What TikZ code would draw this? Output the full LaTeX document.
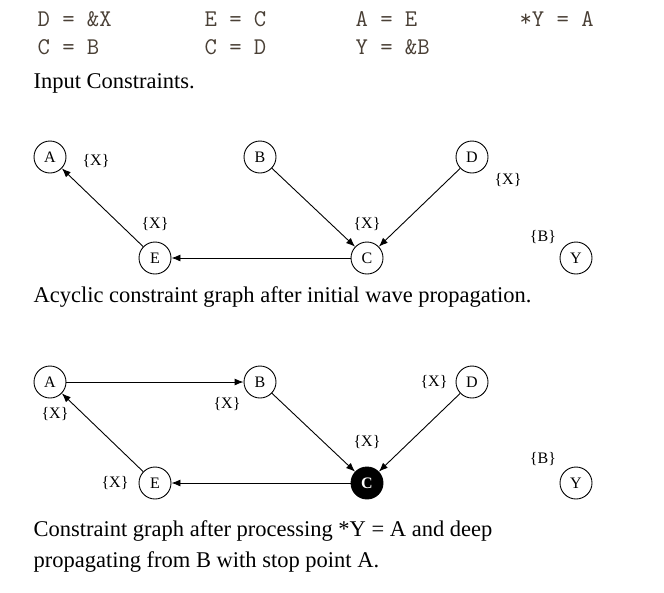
\documentclass[tikz,border=0pt]{standalone}
\usepackage{fontspec}
\setmainfont{Liberation Serif}
\usetikzlibrary{arrows.meta}
\definecolor{codecol}{HTML}{4A4036}
\begin{document}
\begin{tikzpicture}[x=1pt,y=-1pt,
  vtx/.style={circle,draw,line width=0.9pt,minimum size=32pt,inner sep=0pt,font=\fontsize{16}{16}\selectfont},
  filledvtx/.style={vtx,fill=black,text=white,font=\fontsize{16}{16}\selectfont\bfseries},
  lbl/.style={font=\fontsize{16}{16}\selectfont},
  captext/.style={anchor=west,font=\fontsize{22.5}{31}\selectfont},
  code/.style={anchor=west,text=codecol,font=\ttfamily\fontsize{24}{24}\selectfont},
  edge/.style={-{Latex[length=9pt,width=7pt]},line width=0.9pt}]
\useasboundingbox (0,0) rectangle (664,592);
% constraints
\node[code] (c1) at (34,19) {D = \&X};
\node[code] (c2) at (201,19) {E = C};
\node[code] (c3) at (352,19) {A = E};
\node[code] (c4) at (516,19) {*Y = A};
\node[code] (c5) at (34,47) {C = B};
\node[code] (c6) at (201,47) {C = D};
\node[code] (c7) at (352,47) {Y = \&B};
\node[captext] (t1) at (30,83) {Input Constraints.};
% graph 1
\node[vtx] (A1) at (50,157) {A};
\node[vtx] (B1) at (260,157) {B};
\node[vtx] (D1) at (472,157) {D};
\node[vtx] (E1) at (155,258) {E};
\node[vtx] (C1) at (367,258) {C};
\node[vtx] (Y1) at (576,258) {Y};
\draw[edge] (B1) -- (C1);
\draw[edge] (D1) -- (C1);
\draw[edge] (C1) -- (E1);
\draw[edge] (E1) -- (A1);
\node[lbl] (l1) at (96,161) {\{X\}};
\node[lbl] (l2) at (155,224) {\{X\}};
\node[lbl] (l3) at (367,224) {\{X\}};
\node[lbl] (l4) at (508,180) {\{X\}};
\node[lbl] (l5) at (543,237) {\{B\}};
\node[captext] (t2) at (30,297) {Acyclic constraint graph after initial wave propagation.};
% graph 2
\node[vtx] (A2) at (50,382) {A};
\node[vtx] (B2) at (260,382) {B};
\node[vtx] (D2) at (472,382) {D};
\node[vtx] (E2) at (155,483) {E};
\node[filledvtx] (C2) at (367,483) {C};
\node[vtx] (Y2) at (576,483) {Y};
\draw[edge] (A2) -- (B2);
\draw[edge] (B2) -- (C2);
\draw[edge] (D2) -- (C2);
\draw[edge] (C2) -- (E2);
\draw[edge] (E2) -- (A2);
\node[lbl] (m1) at (55,414) {\{X\}};
\node[lbl] (m2) at (227,404) {\{X\}};
\node[lbl] (m3) at (367,442) {\{X\}};
\node[lbl] (m4) at (434,382) {\{X\}};
\node[lbl] (m5) at (115,483) {\{X\}};
\node[lbl] (m6) at (543,459) {\{B\}};
\node[captext,align=left] (t3) at (30,546) {Constraint graph after processing *Y = A and deep\\propagating from B with stop point A.};
\end{tikzpicture}
\end{document}
